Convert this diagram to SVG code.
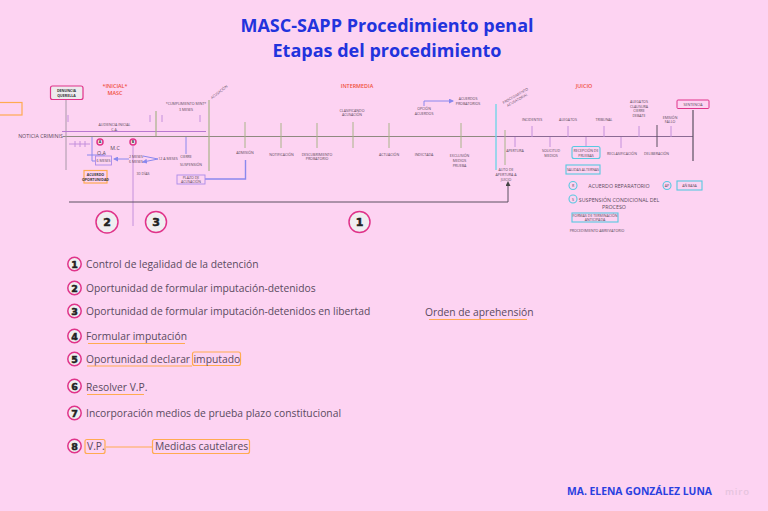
<svg xmlns="http://www.w3.org/2000/svg" width="768" height="511" viewBox="0 0 768 511">
<defs>
<style>
text{font-family:"Open Sans","Noto Sans",sans-serif}
.t{font-size:3.6px;text-anchor:middle;fill:#5a4a5a}
.b{font-size:3.6px;text-anchor:middle;font-weight:700;fill:#333}
.m{font-size:5.3px;text-anchor:middle;fill:#5a4a5a}
.r{font-size:5.4px;text-anchor:middle;fill:#f0503c;font-weight:600}
.h{font-size:18px;font-weight:700;text-anchor:middle;fill:#2233dd}
.l{font-size:10.3px;fill:#5a4a60}
.n{font-size:11px;font-weight:700;text-anchor:middle;fill:#222;stroke:#222;stroke-width:.5;font-family:"DejaVu Sans",sans-serif}
.s{font-size:9.5px}
.c{fill:#f0eef0;stroke:#e0338a;stroke-width:1.5}
.o{fill:none;stroke:#ffab50;stroke-width:1.2}
.cy{fill:none;stroke:#58c8e0;stroke-width:1.1}
.p{fill:none;stroke:#a98be8;stroke-width:.9}
.g{stroke:#a9b488;stroke-width:1;fill:none}
.v{stroke:#c490dc;stroke-width:1;fill:none}
.bl{stroke:#8a88ee;stroke-width:1;fill:none}
.u{stroke:#ffab50;stroke-width:1.2;fill:none}
.f{font-size:10.35px;font-weight:700;fill:#2a3fe0}
.w{font-size:9.5px;letter-spacing:.8px;fill:#e6c4de;font-weight:600}
</style>
<marker id="a" markerWidth="5" markerHeight="5" refX="4" refY="2.5" orient="auto"><path d="M0 0L5 2.5L0 5z" fill="#8a88ee"/></marker>
<marker id="k" markerWidth="5" markerHeight="5" refX="3" refY="2.5" orient="auto"><path d="M0 0L5 2.5L0 5z" fill="#444"/></marker>
</defs>
<rect width="768" height="511" fill="#fdd3f2"/>
<g id="title"><text class="h" x="387" y="32">MASC-SAPP Procedimiento penal</text><text class="h" x="387" y="57">Etapas del procedimiento</text></g>

<g id="connectors">
<path d="M63 136.500H495" stroke="#8f8a80" stroke-width="1.200" fill="none"/>
<path d="M495 136.500H693" stroke="#8b6a94" stroke-width="1.200" fill="none"/>
<path d="M66 100V170" stroke="#a898a8" stroke-width="1" fill="none"/>
<path d="M62 131.500H206" stroke="#b878d0" stroke-width="1" fill="none"/>
<path d="M156 111V136M209 100V171" stroke="#a9b488" stroke-width="1.200" fill="none"/>
<path d="M68 115V122M150 115V122M162 115V122M200 115V122" class="v"/>
<path d="M69 144H90M75 141V147M80 141V147M85 141V147" class="v"/>
<path d="M92 137V161H95M87 155H105" class="bl"/>
<path d="M133 146V226" stroke="#c490dc" stroke-width="1" fill="none"/>
<path d="M129 159H114" class="bl" marker-end="url(#a)"/>
<path d="M143 156L158 159L143 162" class="bl" marker-end="url(#a)"/>
<path d="M186 137V154" class="bl"/>
<path d="M205 179H245.500V160" stroke="#8a88ee" stroke-width="1.400" fill="none"/>
<path d="M69 202H508V183" stroke="#5a5060" stroke-width="1" fill="none" marker-end="url(#k)"/>
<path d="M245 122V148M281 123V148M317 123V148M353 122V148M389 123V148M461 123V148" class="g"/>
<path d="M424 106V101H453" class="bl" marker-end="url(#a)"/>
<path d="M496 104V170" stroke="#72d4e8" stroke-width="1.400" fill="none"/>
<path d="M505 130V165" class="g"/>
<path d="M515 137V147M550 137V147M586 137V147M621 137V148" class="v"/>
<path d="M532 126V137M568 126V137M604 126V137M639 126V137M671 126V137" class="v"/>
<path d="M657 125V147" stroke="#5a5060" stroke-width="1" fill="none"/>
<path d="M693 110V161" stroke="#5a5060" stroke-width="1.200" fill="none"/>
<path d="M106 447H153" stroke="#ffab50" stroke-width="1" fill="none"/>
</g>

<g id="upper-left">
<g id="n-orange"><rect class="o" x="-4" y="102.500" width="26" height="12.500"/></g>
<g id="n-denuncia"><rect x="50.500" y="86" width="32.500" height="13.500" rx="2" fill="#eeeaee" stroke="#e0338a" stroke-width="1.200"/><text class="b" x="66.500" y="91.500">DENUNCIA</text><text class="b" x="66.500" y="96.500">QUERELLA</text></g>
<text class="r" x="115" y="88">*INICIAL*</text><text class="r" x="115" y="95">MASC</text>
<text class="t" x="186" y="105">*CUMPLIMIENTO MINT*</text><text class="t" x="186" y="110.500">3 MESES</text>
<text class="t" x="114.500" y="126">AUDIENCIA INICIAL</text><text class="t" x="114.500" y="131">C.A.</text>
<text class="m" x="40.500" y="138">NOTICIA CRIMINIS</text>
<text class="t" x="220" y="93" transform="rotate(-38 220 93)">ACUSACIÓN</text>
<g id="n-a"><circle class="c" cx="100" cy="142" r="3"/><text class="b" x="100" y="143.300">A</text></g>
<g id="n-b"><circle class="c" cx="133" cy="142" r="3"/><text class="b" x="133" y="143.300">B</text></g>
<text class="m" x="115" y="149.500">M.C</text>
<text class="m" x="101.500" y="155">O.A</text>
<g id="n-6m"><rect class="p" x="95.500" y="156" width="16" height="9"/><text class="t" x="103.500" y="161.500">6 MESES</text></g>
<text class="t" x="136" y="157.500">2 MESES</text><text class="t" x="136" y="163">6 MESES</text>
<text class="t" x="168" y="160">12 A MESES</text>
<text class="t" x="186" y="158">CIERRE</text><text class="t" x="191" y="165.500">SUSPENSIÓN</text>
<text class="t" x="143" y="174.500">30 DÍAS</text>
<g id="n-acuerdo"><rect class="o" x="84" y="170.500" width="23" height="12.500"/><text class="b" x="95.500" y="175.800">ACUERDO</text><text class="b" x="95.500" y="180.500">OPORTUNIDAD</text></g>
<g id="n-plazo"><rect class="p" x="177" y="175" width="28" height="9"/><text class="t" x="191" y="178.800">PLAZO DE</text><text class="t" x="191" y="182.800">ACUSACIÓN</text></g>
</g>

<g id="intermedia">
<text class="r" x="357" y="88">INTERMEDIA</text>
<text class="t" x="245" y="154">ADMISIÓN</text>
<text class="t" x="281.500" y="155.500">NOTIFICACIÓN</text>
<text class="t" x="317" y="155.500">DESCUBRIMIENTO</text><text class="t" x="317" y="160">PROBATORIO</text>
<text class="t" x="352" y="112">CLASIFICANDO</text><text class="t" x="352" y="116">ACUSACIÓN</text>
<text class="t" x="389" y="155.500">ACTUACIÓN</text>
<text class="t" x="424" y="155.500">INDICTADA</text>
<text class="t" x="459.500" y="157">EXCLUSIÓN</text><text class="t" x="459.500" y="162">MEDIOS</text><text class="t" x="459.500" y="167">PRUEBA</text>
<text class="t" x="424" y="110">OPCIÓN</text><text class="t" x="424" y="114.500">ACUERDOS</text>
<text class="t" x="468" y="100">ACUERDOS</text><text class="t" x="468" y="105">PROBATORIOS</text>
</g>

<g id="juicio">
<text class="r" x="584" y="88">JUICIO</text>
<text class="t" x="516" y="97" transform="rotate(-30 516 97)">PROCEDIMIENTO</text><text class="t" x="518" y="101" transform="rotate(-30 518 101)">ACUSATORIAL</text>
<text class="t" x="532" y="121">INCIDENTES</text><text class="t" x="568" y="121">ALEGATOS</text><text class="t" x="604" y="121">TRIBUNAL</text>
<text class="t" x="639" y="103">ALEGATOS</text><text class="t" x="639" y="107.500">CLAUSURA</text><text class="t" x="639" y="112">CIERRE</text><text class="t" x="639" y="116.500">DEBATE</text>
<text class="t" x="670" y="118.500">EMISIÓN</text><text class="t" x="670" y="123">FALLO</text>
<g id="n-sentencia"><rect x="677" y="100" width="32" height="8.500" rx="1" fill="#fdd3f2" stroke="#e0338a" stroke-width="1"/><text class="t" x="693" y="105.500">SENTENCIA</text></g>
<text class="t" x="515" y="151.500">APERTURA</text>
<text class="t" x="551" y="151.500">SOLICITUD</text><text class="t" x="551" y="156.500">MEDIOS</text>
<g id="n-recepcion"><rect class="cy" x="572" y="146.500" width="28" height="12" rx="2"/><text class="t" x="586" y="151.500">RECEPCIÓN DE</text><text class="t" x="586" y="156.500">PRUEBAS</text></g>
<text class="t" x="622" y="154.500">RECLASIFICACIÓN</text>
<text class="t" x="656.500" y="154.500">DELIBERACIÓN</text>
<text class="t" x="506" y="171">AUTO DE</text><text class="t" x="506" y="176">APERTURA A</text><text class="t" x="506" y="181">JUICIO</text>
<g id="n-salidas"><rect class="cy" x="566" y="165" width="34" height="9"/><text class="t" x="583" y="170.800">SALIDAS ALTERNAS</text></g>
<g id="n-r"><circle class="cy" cx="573" cy="185.500" r="4"/><text class="t" x="573" y="187">R</text></g>
<text class="m" x="619" y="187.700">ACUERDO REPARATORIO</text>
<g id="n-ap"><circle class="cy" cx="667" cy="185.500" r="4"/><text class="t" x="667" y="187">AP</text></g>
<g id="n-abasa"><rect class="cy" x="677" y="181" width="25" height="9"/><text class="t" x="689.500" y="187">AÑ BASA</text></g>
<g id="n-s"><circle class="cy" cx="573" cy="199" r="4"/><text class="t" x="573" y="200.500">S</text></g>
<text class="m" x="619" y="201.500">SUSPENSIÓN CONDICIONAL DEL</text>
<text class="m" x="614" y="209">PROCESO</text>
<g id="n-formas"><rect class="cy" x="572" y="213" width="46" height="9"/><text class="t" x="595" y="217">FORMAS DE TERMINACIÓN</text><text class="t" x="595" y="221">ANTICIPADA</text></g>
<text class="t" x="597" y="232">PROCEDIMIENTO ABREVIATORIO</text>
</g>

<g id="big-2"><circle class="c" cx="107" cy="222" r="11"/><text class="n" x="107" y="226">2</text></g>
<g id="big-3"><circle class="c" cx="156" cy="222" r="10.500"/><text class="n" x="156" y="226">3</text></g>
<g id="big-1"><circle class="c" cx="359.500" cy="222" r="10.500"/><text class="n" x="359.500" y="226">1</text></g>

<g id="list">
<g id="i1"><circle class="c" cx="74.500" cy="264" r="6.700"/><text class="n s" x="74.500" y="267.500">1</text><text class="l" x="86" y="268">Control de legalidad de la detención</text></g>
<g id="i2"><circle class="c" cx="74.500" cy="288" r="6.700"/><text class="n s" x="74.500" y="291.500">2</text><text class="l" x="86" y="292">Oportunidad de formular imputación-detenidos</text></g>
<g id="i3"><circle class="c" cx="74.500" cy="311" r="6.700"/><text class="n s" x="74.500" y="314.500">3</text><text class="l" x="86" y="315">Oportunidad de formular imputación-detenidos en libertad</text></g>
<g id="orden"><text class="l" x="425" y="315.500">Orden de aprehensión</text><path class="u" d="M429 319.500H527"/></g>
<g id="i4"><circle class="c" cx="74.500" cy="336" r="6.700"/><text class="n s" x="74.500" y="339.500">4</text><text class="l" x="86" y="340">Formular imputación</text><path class="u" d="M88 343.500H185"/></g>
<g id="i5"><circle class="c" cx="74.500" cy="359" r="6.700"/><text class="n s" x="74.500" y="362.500">5</text><text class="l" x="86" y="363">Oportunidad declarar</text><rect class="o" x="192.500" y="352" width="48" height="13.500" rx="2"/><text class="l" x="193.500" y="363">imputado</text><path class="u" d="M87 366H192"/></g>
<g id="i6"><circle class="c" cx="74.500" cy="386" r="6.700"/><text class="n s" x="74.500" y="389.500">6</text><text class="l" x="86" y="391">Resolver V.P.</text><path class="u" d="M87 394.500H144"/></g>
<g id="i7"><circle class="c" cx="74.500" cy="413" r="6.700"/><text class="n s" x="74.500" y="416.500">7</text><text class="l" x="86" y="417">Incorporación medios de prueba plazo constitucional</text></g>
<g id="i8"><circle class="c" cx="74.500" cy="446" r="6.700"/><text class="n s" x="74.500" y="449.500">8</text><rect class="o" x="85" y="439.500" width="20" height="14" rx="2"/><text class="l" x="87" y="450">V.P.</text></g>
<g id="medidas"><rect class="o" x="152.500" y="439.500" width="97" height="14" rx="2"/><text class="l" x="155" y="450">Medidas cautelares</text></g>
</g>

<g id="footer"><text class="f" x="567" y="495">MA. ELENA GONZÁLEZ LUNA</text><text class="w" x="725" y="495">miro</text></g>
</svg>
